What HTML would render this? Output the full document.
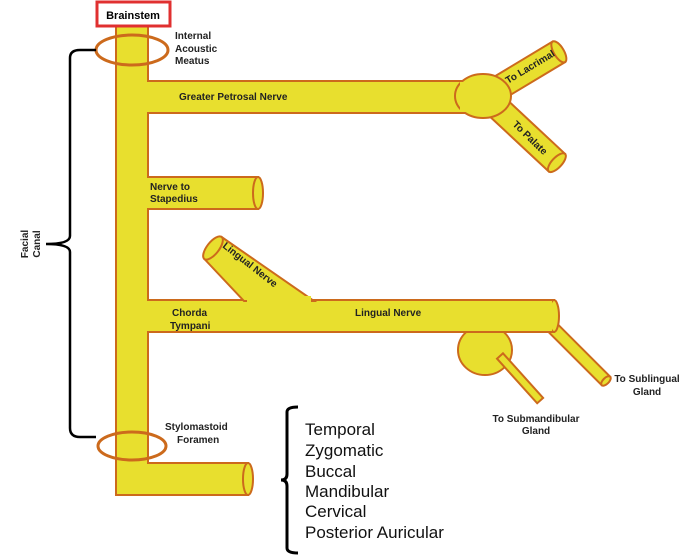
<!DOCTYPE html>
<html><head><meta charset="utf-8"><style>
html,body{margin:0;padding:0;background:#fff;width:685px;height:556px;overflow:hidden}
svg{display:block;font-family:"Liberation Sans",Arial,sans-serif}
</style></head><body>
<svg width="685" height="556" viewBox="0 0 685 556" xmlns="http://www.w3.org/2000/svg">
<g fill="#e8df2e" stroke="#cc6a1c" stroke-width="2">
<g transform="translate(492,92) rotate(-31)"><rect x="0" y="-12" width="78" height="24"/><ellipse cx="78" cy="0" rx="5" ry="12"/></g>
<g transform="translate(494,104) rotate(43)"><rect x="0" y="-12" width="86" height="24"/><ellipse cx="86" cy="0" rx="5" ry="12"/></g>
<rect x="140" y="81" width="335" height="32"/>
<ellipse cx="483" cy="96" rx="28" ry="22"/>
<rect x="140" y="177" width="118" height="32"/>
<ellipse cx="258" cy="193" rx="5" ry="16"/>
<g transform="translate(548,323) rotate(45)"><rect x="0" y="-6" width="82" height="12"/><ellipse cx="82" cy="0" rx="3" ry="6"/></g>
<ellipse cx="485" cy="350" rx="27" ry="25"/>
<g transform="translate(500,356) rotate(48)"><rect x="0" y="-4" width="60" height="8"/></g>
<rect x="140" y="300" width="414" height="32"/>
<ellipse cx="554" cy="316" rx="5" ry="16"/>
<polygon points="221.6,237 314,301 244,301 204.4,259"/>
<ellipse cx="213" cy="248" rx="6" ry="14" transform="rotate(38 213 248)"/>
<rect x="130" y="463" width="118" height="32"/>
<ellipse cx="248" cy="479" rx="5" ry="16"/>
<rect x="116" y="26" width="32" height="469"/>
</g>
<g fill="#e8df2e">
<rect x="117" y="82" width="33" height="30"/>
<rect x="117" y="178" width="33" height="30"/>
<rect x="117" y="301" width="33" height="30"/>
<rect x="117" y="464" width="33" height="30"/>
<rect x="460" y="82" width="20" height="30"/>
<rect x="535" y="301" width="17" height="30"/>
<rect x="247" y="296" width="64" height="8"/>
</g>
<g fill="none" stroke="#cc6a1c" stroke-width="3">
<ellipse cx="132" cy="50" rx="36" ry="15"/>
<ellipse cx="132" cy="446" rx="34" ry="14"/>
</g>
<rect x="97" y="2" width="73" height="24" fill="#fff" stroke="#e03030" stroke-width="3"/>
<text x="133" y="19" font-size="11" font-weight="bold" text-anchor="middle">Brainstem</text>
<path d="M96,50 H80 Q70,50 70,58 V236 Q70,244 46,244 Q70,244 70,252 V428 Q70,437 80,437 H96" fill="none" stroke="#000" stroke-width="2.5"/>
<path d="M298,407 Q287,407 287,412 V474 Q287,480 281,480 Q287,480 287,486 V548 Q287,553 298,553" fill="none" stroke="#000" stroke-width="3"/>
<g font-size="10" font-weight="bold" fill="#222">
<text transform="translate(28,244) rotate(-90)" text-anchor="middle">Facial</text>
<text transform="translate(40,244) rotate(-90)" text-anchor="middle">Canal</text>
<text x="175" y="39">Internal</text><text x="175" y="52">Acoustic</text><text x="175" y="64">Meatus</text>
<text x="179" y="100">Greater Petrosal Nerve</text>
<text x="150" y="190">Nerve to</text><text x="150" y="202">Stapedius</text>
<text x="172" y="316">Chorda</text><text x="170" y="329">Tympani</text>
<text x="355" y="316">Lingual Nerve</text>
<text transform="translate(222,247) rotate(38)">Lingual Nerve</text>
<text transform="translate(508,84) rotate(-31)">To Lacrimal</text>
<text transform="translate(512,125) rotate(44)">To Palate</text>
<text x="165" y="430">Stylomastoid</text><text x="177" y="443">Foramen</text>
<text x="647" y="382" text-anchor="middle">To Sublingual</text><text x="647" y="395" text-anchor="middle">Gland</text>
<text x="536" y="422" text-anchor="middle">To Submandibular</text><text x="536" y="434" text-anchor="middle">Gland</text>
</g>
<g font-size="17" fill="#111">
<text x="305" y="435">Temporal</text>
<text x="305" y="456">Zygomatic</text>
<text x="305" y="477">Buccal</text>
<text x="305" y="497">Mandibular</text>
<text x="305" y="517">Cervical</text>
<text x="305" y="538">Posterior Auricular</text>
</g>
</svg>
</body></html>
